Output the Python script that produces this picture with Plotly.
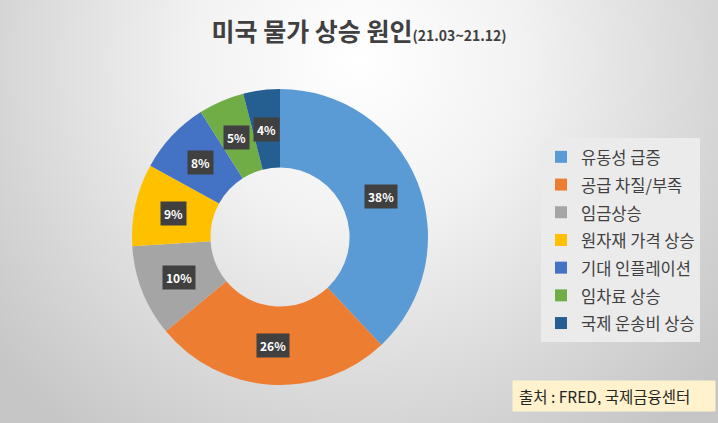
import base64
import math
import plotly.graph_objects as go

# ---- data ----
categories = ["유동성 급증", "공급 차질/부족", "임금상승", "원자재 가격 상승",
              "기대 인플레이션", "임차료 상승", "국제 운송비 상승"]
values = [38, 26, 10, 9, 8, 5, 4]
colors = ["#5B9BD5", "#ED7D31", "#A5A5A5", "#FFC000", "#4472C4", "#70AD47", "#255E91"]
title_main = "미국 물가 상승 원인"
title_sub = "(21.03~21.12)"
source_text = "출처 : FRED, 국제금융센터"

# ---- layout constants ----
W, H = 718, 423
CX, CY, R = 280, 237, 148   # pie centre / radius in pixels
HOLE = 0.47
FONT = "Noto Sans CJK KR, Malgun Gothic, sans-serif"

dom_x = [(CX - R) / W, (CX + R) / W]
dom_y = [1 - (CY + R) / H, 1 - (CY - R) / H]

fig = go.Figure()
fig.add_trace(go.Pie(
    labels=[f"<span style='font-size:16.5px'>{c}</span>" for c in categories],
    values=values,
    marker=dict(colors=colors, line=dict(width=0)),
    hole=HOLE,
    sort=False,
    direction="clockwise",
    rotation=0,
    textinfo="none",
    hoverinfo="label+percent",
    domain=dict(x=dom_x, y=dom_y),
    showlegend=True,
))

# data labels: dark boxes at mid-ring, positions derived from the values
total = sum(values)
rmid = R * (1 + HOLE) / 2
cum = 0
annotations = []
for v in values:
    theta = 2 * math.pi * (cum + v / 2) / total
    cum += v
    px = CX + rmid * math.sin(theta)
    py = CY - rmid * math.cos(theta)
    annotations.append(dict(
        x=px / W, y=1 - py / H, xref="paper", yref="paper",
        xanchor="center", yanchor="middle",
        text=f"<b>{round(100 * v / total)}%</b>", showarrow=False,
        font=dict(family=FONT, size=12, color="white"),
        bgcolor="#404040", borderpad=3,
    ))

# source box
annotations.append(dict(
    x=716 / W, y=1 - 396 / H, xref="paper", yref="paper",
    xanchor="right", yanchor="middle",
    text=source_text, showarrow=False, align="left",
    width=190, height=18,
    font=dict(family=FONT, size=15.5, color="#262626"),
    bgcolor="#FFF2CC", borderpad=6,
))

# gradient background as an inline SVG image
svg = f"""<svg xmlns='http://www.w3.org/2000/svg' width='{W}' height='{H}'>
<defs><radialGradient id='g' gradientUnits='userSpaceOnUse' cx='{W/2}' cy='60' r='470'>
<stop offset='0' stop-color='#FFFFFF'/><stop offset='0.35' stop-color='#F2F2F2'/>
<stop offset='1' stop-color='#C6C6C6'/></radialGradient></defs>
<rect width='{W}' height='{H}' fill='url(#g)'/></svg>"""
bg_src = "data:image/svg+xml;base64," + base64.b64encode(svg.encode()).decode()

fig.update_layout(
    width=W, height=H, autosize=False,
    margin=dict(l=0, r=0, t=0, b=0),
    paper_bgcolor="#E0E0E0",
    plot_bgcolor="rgba(0,0,0,0)",
    font=dict(family=FONT, color="#404040"),
    title=dict(
        text=f"<b>{title_main}</b><span style='font-size:14px'><b>{title_sub}</b></span>",
        x=0.5, xanchor="center", y=1 - 32 / H, yanchor="middle",
        font=dict(family=FONT, size=25, color="#404040"),
    ),
    legend=dict(
        x=541 / W, xanchor="left", y=1 - 138 / H, yanchor="top",
        bgcolor="#EBEBEB", borderwidth=0,
        font=dict(family=FONT, size=19, color="#404040"),
        itemclick=False, itemdoubleclick=False,
    ),
    images=[dict(source=bg_src, xref="paper", yref="paper", x=0, y=1,
                 sizex=1, sizey=1, sizing="stretch", layer="below")],
    annotations=annotations,
)

fig.write_html(
    "out.html",
    config={"displayModeBar": False},
    post_script="document.body.style.margin='0';document.body.style.overflow='hidden';",
)
